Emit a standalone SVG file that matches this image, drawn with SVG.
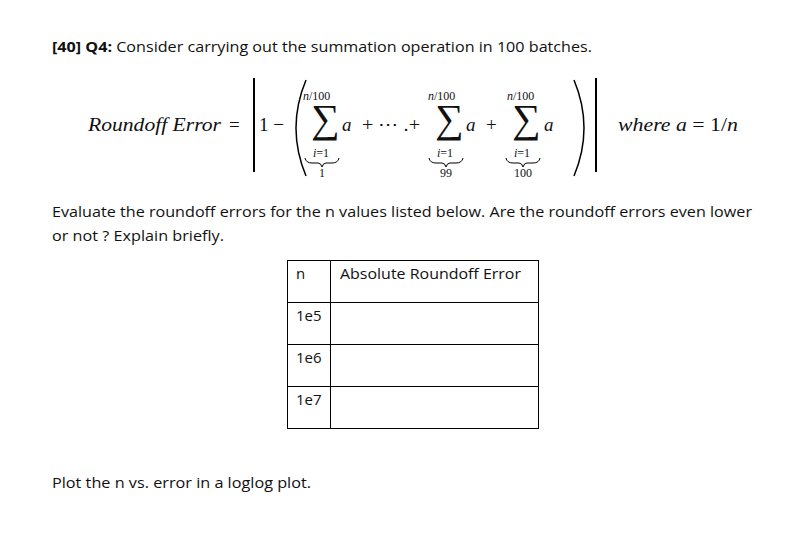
<svg xmlns="http://www.w3.org/2000/svg" width="807" height="540" viewBox="0 0 807 540">
<style>
.t{font-family:"Open Sans","Liberation Sans",sans-serif;font-size:15px;fill:#111}
.m{font-family:"Liberation Serif",serif;font-size:19px;font-style:italic;fill:#111}
.r{font-family:"Liberation Serif",serif;font-size:19px;font-style:normal;fill:#111}
.s{font-family:"Liberation Serif",serif;font-size:12px;font-style:normal;fill:#111}
.si{font-family:"Liberation Serif",serif;font-size:12px;font-style:italic;fill:#111}
.g{font-family:"Liberation Serif",serif;font-size:40px;fill:#111}
.ln{stroke:#000;fill:none}
</style>
<rect width="807" height="540" fill="#fff"/>
<text class="t" x="52" y="52" textLength="540" lengthAdjust="spacingAndGlyphs"><tspan font-weight="bold">[40] Q4:</tspan> Consider carrying out the summation operation in 100 batches.</text>
<text class="m" x="88" y="131" textLength="133" lengthAdjust="spacingAndGlyphs">Roundoff Error</text>
<text class="r" x="229" y="131">=</text>
<line class="ln" x1="254" y1="78" x2="254" y2="172" stroke-width="2"/>
<text class="r" x="259" y="131">1 −</text>
<path class="ln" d="M306 80 Q286 128 306 176" stroke-width="1.5"/>
<path class="ln" d="M574 80 Q594 128 574 176" stroke-width="1.5"/>
<line class="ln" x1="596" y1="78" x2="596" y2="172" stroke-width="2"/>
<g>
<text class="si" x="303" y="100">n<tspan class="s">/100</tspan></text>
<text class="g" x="311" y="132">∑</text>
<text class="m" x="342" y="131">a</text>
<text class="si" x="313" y="157">i<tspan class="s">=1</tspan></text>
<path class="ln" d="M305 158 Q306 163 312 163 L318 163 Q321 163 322 167 Q323 163 326 163 L332 163 Q338 163 339 158" stroke-width="1"/>
<text class="s" x="319" y="177">1</text>
</g>
<text class="r" x="362" y="131" textLength="58" lengthAdjust="spacingAndGlyphs">+ ⋯ .+</text>
<g>
<text class="si" x="428" y="100">n<tspan class="s">/100</tspan></text>
<text class="g" x="435" y="132">∑</text>
<text class="m" x="466" y="131">a</text>
<text class="si" x="437" y="157">i<tspan class="s">=1</tspan></text>
<path class="ln" d="M429 158 Q430 163 436 163 L442 163 Q445 163 446 167 Q447 163 450 163 L456 163 Q462 163 463 158" stroke-width="1"/>
<text class="s" x="440" y="177">99</text>
</g>
<text class="r" x="486" y="131">+</text>
<g>
<text class="si" x="507" y="100">n<tspan class="s">/100</tspan></text>
<text class="g" x="512" y="132">∑</text>
<text class="m" x="544" y="131">a</text>
<text class="si" x="514" y="157">i<tspan class="s">=1</tspan></text>
<path class="ln" d="M506 158 Q507 163 513 163 L519 163 Q522 163 523 167 Q524 163 527 163 L533 163 Q539 163 540 158" stroke-width="1"/>
<text class="s" x="514" y="177">100</text>
</g>
<text class="m" x="618" y="131" textLength="120" lengthAdjust="spacingAndGlyphs">where a <tspan class="r">= 1/</tspan>n</text>
<text class="t" x="52" y="217" textLength="700" lengthAdjust="spacingAndGlyphs">Evaluate the roundoff errors for the n values listed below. Are the roundoff errors even lower</text>
<text class="t" x="52" y="241" textLength="172" lengthAdjust="spacingAndGlyphs">or not ? Explain briefly.</text>
<g class="ln" stroke-width="1">
<rect x="287.5" y="260.5" width="251" height="168"/>
<line x1="330.5" y1="260" x2="330.5" y2="429"/>
<line x1="287" y1="302.5" x2="539" y2="302.5"/>
<line x1="287" y1="344.5" x2="539" y2="344.5"/>
<line x1="287" y1="386.5" x2="539" y2="386.5"/>
</g>
<text class="t" x="296" y="279">n</text>
<text class="t" x="340" y="279" textLength="181" lengthAdjust="spacingAndGlyphs">Absolute Roundoff Error</text>
<text class="t" x="296" y="321">1e5</text>
<text class="t" x="296" y="363">1e6</text>
<text class="t" x="296" y="405">1e7</text>
<text class="t" x="52" y="488" textLength="259" lengthAdjust="spacingAndGlyphs">Plot the n vs. error in a loglog plot.</text>
</svg>
